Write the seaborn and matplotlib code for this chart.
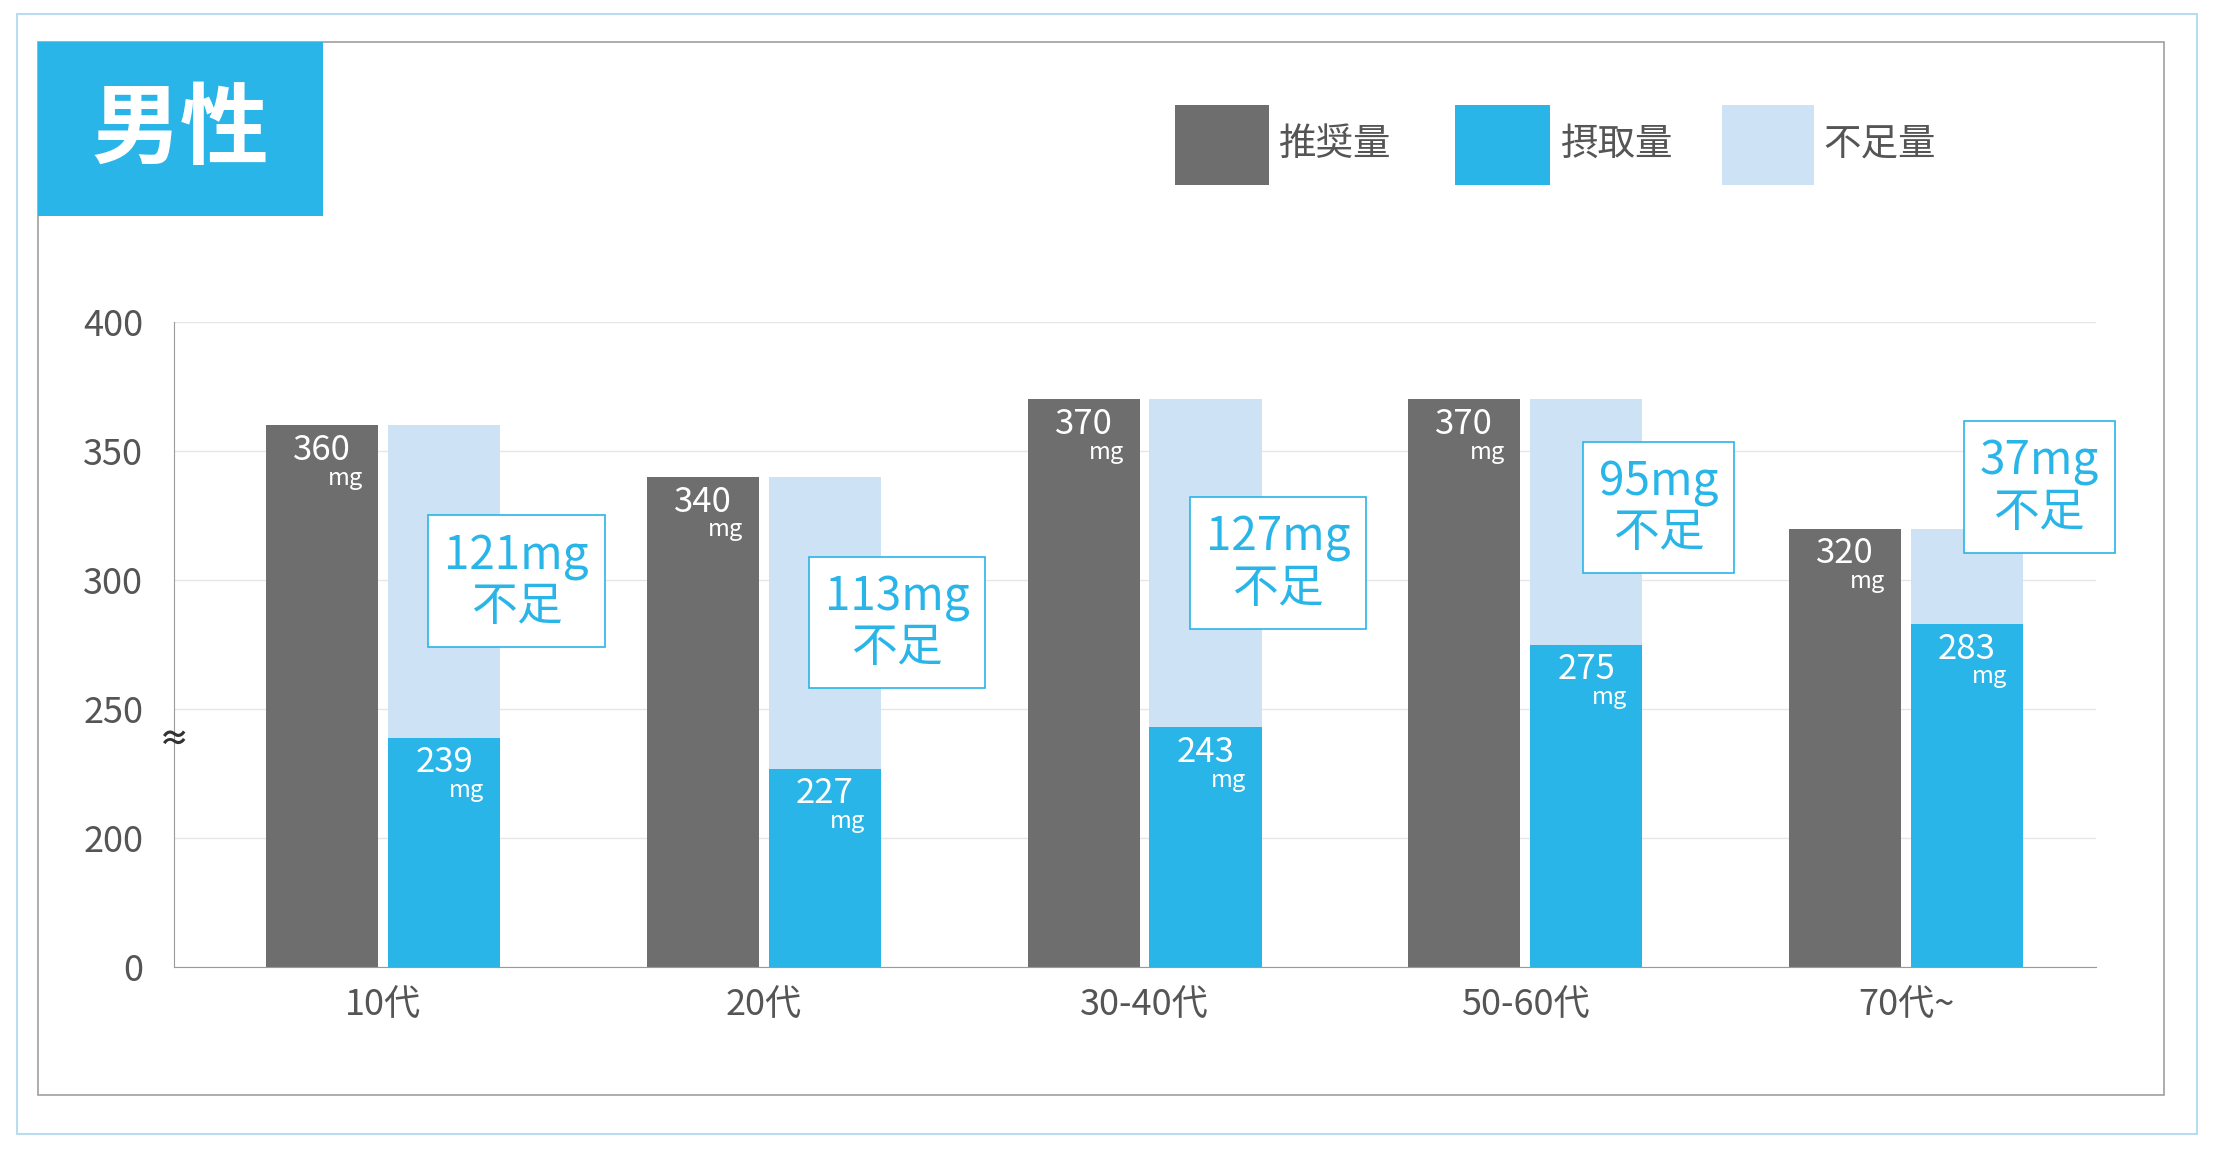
import matplotlib
matplotlib.use("Agg")
import matplotlib.pyplot as plt
from matplotlib.patches import Rectangle
import seaborn as sns
import pandas as pd

categories = ["10代", "20代", "30-40代", "50-60代", "70代~"]
recommended = [360, 340, 370, 370, 320]
intake = [239, 227, 243, 275, 283]
deficit = [121, 113, 127, 95, 37]
yticks = [0, 200, 250, 300, 350, 400]

DARK, BLUE, LIGHT = "#6e6e6e", "#29b5e8", "#cde2f4"
TXT = "#555555"
plt.rcParams["font.family"] = "Noto Sans CJK JP"

def t(v):
    return v if v < 200 else v - 150

fig = plt.figure(figsize=(22.15, 11.51), dpi=100)
W, H = 1568, 815
def fx(x): return x / W
def fy(y): return 1 - y / H

fig.patches.append(Rectangle((fx(12), fy(803)), fx(1555) - fx(12), fy(10) - fy(803),
                             transform=fig.transFigure, fill=False, ec="#b9dcee", lw=1.5))
fig.patches.append(Rectangle((fx(27), fy(775)), fx(1532) - fx(27), fy(30) - fy(775),
                             transform=fig.transFigure, fill=False, ec="#a0a0a0", lw=1.2))
fig.patches.append(Rectangle((fx(27), fy(153)), fx(229) - fx(27), fy(30) - fy(153),
                             transform=fig.transFigure, fc=BLUE, ec="none"))
fig.text(fx(128), fy(93), "男性", color="white", fontsize=64, fontweight="bold",
         ha="center", va="center")
for x0, x1, c, lab in [(832, 898, DARK, "推奨量"), (1030, 1097, BLUE, "摂取量"), (1219, 1284, LIGHT, "不足量")]:
    fig.patches.append(Rectangle((fx(x0), fy(131)), fx(x1) - fx(x0), fy(74) - fy(131),
                                 transform=fig.transFigure, fc=c, ec="none"))
    fig.text(fx(x1 + 7), fy(102), lab, color=TXT, fontsize=27, ha="left", va="center")

ax = fig.add_axes([fx(123), fy(685), fx(1484) - fx(123), fy(228) - fy(685)])

series = ["推奨量", "摂取量"]
df_bg = pd.DataFrame({"cat": categories * 2, "s": [series[0]] * 5 + [series[1]] * 5,
                      "v": [t(v) for v in recommended] + [t(v) for v in recommended]})
df_fg = pd.DataFrame({"cat": categories * 2, "s": [series[0]] * 5 + [series[1]] * 5,
                      "v": [t(v) for v in recommended] + [t(v) for v in intake]})
sns.barplot(data=df_bg, x="cat", y="v", hue="s", palette=[DARK, LIGHT], width=0.64,
            gap=0.08, legend=False, ax=ax, saturation=1)
sns.barplot(data=df_fg, x="cat", y="v", hue="s", palette=[DARK, BLUE], width=0.64,
            gap=0.08, legend=False, ax=ax, saturation=1)

for i in range(5):
    for xo, v in [(-0.16, recommended[i]), (0.16, intake[i])]:
        ax.text(i + xo, t(v) - 3, str(v), color="white", fontsize=25, ha="center", va="top")
        ax.text(i + xo + 0.06, t(v) - 16, "mg", color="white", fontsize=17, ha="center", va="top")
    mid = max((intake[i] + recommended[i]) / 2, intake[i] + 53)
    ax.text(i + 0.35, t(mid), f"{deficit[i]}mg\n不足", color=BLUE, fontsize=33,
            ha="center", va="center", linespacing=1.05,
            bbox=dict(boxstyle="square,pad=0.35", fc="white", ec=BLUE, lw=1.2))

ax.set_xlim(-0.55, 4.5)
ax.set_ylim(0, t(400))
ax.set_yticks([t(v) for v in yticks])
ax.set_yticklabels([str(v) for v in yticks])
ax.tick_params(axis="y", length=0, labelsize=26, colors=TXT, pad=22)
ax.tick_params(axis="x", length=0, labelsize=26, colors=TXT, pad=14)
ax.set_xlabel(""); ax.set_ylabel("")
ax.yaxis.grid(True, color="#e6e6e6", lw=1)
ax.set_axisbelow(True)
for s in ["top", "right"]:
    ax.spines[s].set_visible(False)
for s in ["left", "bottom"]:
    ax.spines[s].set_color("#9a9a9a")
ax.text(-0.55, t(100) - 12, "≈", color="#333333", fontsize=22, ha="center", va="center",
        fontweight="bold")

fig.savefig("out.png", dpi=100)
